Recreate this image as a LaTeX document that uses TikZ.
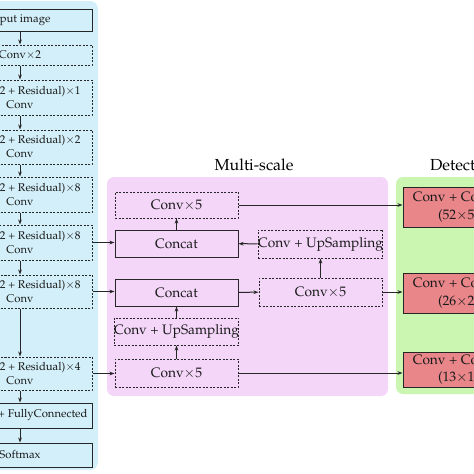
\documentclass[tikz,border=0pt]{standalone}
\usepackage[T1]{fontenc}
\usepackage{mathpazo}
\usetikzlibrary{arrows.meta}
\definecolor{bluebg}{HTML}{D3EFF9}
\definecolor{pinkbg}{HTML}{F3D6F8}
\definecolor{greenbg}{HTML}{CBF6B2}
\definecolor{salmonfill}{HTML}{E8868A}
\definecolor{edgecol}{HTML}{262626}
\tikzset{
  base/.style={draw=edgecol, line width=1pt, inner sep=0pt, align=center, text=black!90},
  ldash/.style={base, dash pattern=on 2pt off 1.5pt, minimum width=144pt, font=\fontsize{11.3}{14}\selectfont},
  lsolid/.style={base, minimum width=144pt, font=\fontsize{11.3}{14}\selectfont},
  mdash/.style={base, dash pattern=on 2pt off 1.5pt, minimum width=123pt, font=\fontsize{13.7}{16}\selectfont},
  msolid/.style={base, minimum width=123pt, font=\fontsize{13.7}{16}\selectfont},
  detbox/.style={base, fill=salmonfill, minimum width=118pt, font=\fontsize{13.7}{17.5}\selectfont},
  paneltitle/.style={inner sep=0pt, font=\fontsize{16}{18}\selectfont},
  arr/.style={draw=edgecol, line width=1pt, -{Stealth[length=5pt,width=3.6pt]}}
}
\begin{document}
\begin{tikzpicture}[x=1pt,y=-1pt]
\useasboundingbox (0,0) rectangle (474,474);
\clip (0,0) rectangle (474,474);
% panels
\fill[bluebg, rounded corners=8pt] (-60,1) rectangle (98,470);
\fill[pinkbg, rounded corners=7pt] (107,177) rectangle (388,396);
\fill[greenbg, rounded corners=7pt] (396,177) rectangle (530,394);
\node[paneltitle] (tms) at (254,165) {Multi-scale};
\node[paneltitle] (tdet) at (464,165) {Detection};
% left column
\node[lsolid, minimum height=22pt] (L1) at (20,20) {Input image};
\node[ldash, minimum height=20pt] (L2) at (20,55) {Conv$\times$2};
\node[ldash, minimum height=35pt] (L3) at (20,97.5) {(Conv$\times$2 + Residual)$\times$1\\Conv};
\node[ldash, minimum height=34pt] (L4) at (20,147) {(Conv$\times$2 + Residual)$\times$2\\Conv};
\node[ldash, minimum height=35pt] (L5) at (20,194.5) {(Conv$\times$2 + Residual)$\times$8\\Conv};
\node[ldash, minimum height=35pt] (L6) at (20,242.5) {(Conv$\times$2 + Residual)$\times$8\\Conv};
\node[ldash, minimum height=33pt] (L7) at (20,291.5) {(Conv$\times$2 + Residual)$\times$8\\Conv};
\node[ldash, minimum height=33pt] (L8) at (20,373.5) {(Conv$\times$2 + Residual)$\times$4\\Conv};
\node[lsolid, minimum height=25pt] (L9) at (20,415.5) {Avgpool + FullyConnected};
\node[lsolid, minimum height=24pt] (L10) at (20,455) {Softmax};
\draw[arr] (L1) -- (L2);
\draw[arr] (L2) -- (L3);
\draw[arr] (L3) -- (L4);
\draw[arr] (L4) -- (L5);
\draw[arr] (L5) -- (L6);
\draw[arr] (L6) -- (L7);
\draw[arr] (L7) -- (L8);
\draw[arr] (L8) -- (L9);
\draw[arr] (L9) -- (L10);
% multi-scale
\node[mdash, minimum height=26pt] (A) at (176.5,205) {Conv$\times$5};
\node[msolid, minimum height=27pt] (B) at (176.5,243.5) {Concat};
\node[mdash, minimum height=28pt] (C) at (320.5,244) {Conv + UpSampling};
\node[msolid, minimum height=27pt] (D) at (176.5,292.5) {Concat};
\node[mdash, minimum height=28pt] (E) at (320.5,292) {Conv$\times$5};
\node[mdash, minimum height=27pt] (F) at (176.5,331.5) {Conv + UpSampling};
\node[mdash, minimum height=28pt] (G) at (176.5,373) {Conv$\times$5};
% detection
\node[detbox, minimum height=40pt] (T1) at (462,207) {Conv + Conv2D\\(52$\times$52)};
\node[detbox, minimum height=40pt] (T2) at (462,293) {Conv + Conv2D\\(26$\times$26)};
\node[detbox, minimum height=35pt] (T3) at (462,369.5) {Conv + Conv2D\\(13$\times$13)};
% connectors
\draw[arr] (L6.east) -- (L6.east -| B.west);
\draw[arr] (L7.east) -- (L7.east -| D.west);
\draw[arr] (L8.east) -- (L8.east -| G.west);
\draw[arr] (B) -- (A);
\draw[arr] (C) -- (B);
\draw[arr] (E) -- (C);
\draw[arr] (D) -- (E);
\draw[arr] (F) -- (D);
\draw[arr] (G) -- (F);
\draw[arr] (A.east) -- (A.east -| T1.west);
\draw[arr] (E.east) -- (E.east -| T2.west);
\draw[arr] (G.east) -- (G.east -| T3.west);
\end{tikzpicture}
\end{document}
